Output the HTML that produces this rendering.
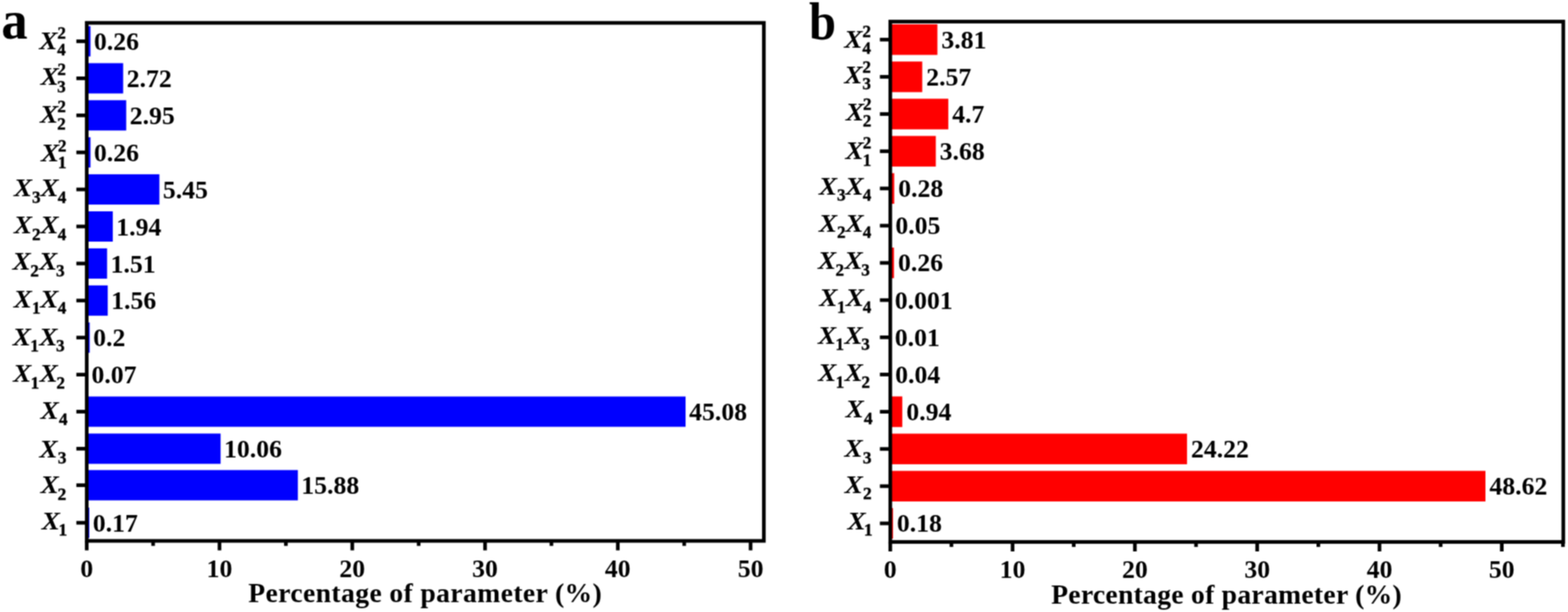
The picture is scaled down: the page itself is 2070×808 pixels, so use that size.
<!DOCTYPE html>
<html lang="en"><head><meta charset="utf-8"><title>Percentage of parameter</title>
<style>
html,body{margin:0;padding:0;background:#fff;}
body{width:2070px;height:808px;overflow:hidden;}
svg{display:block;}
text{font-family:"Liberation Serif","DejaVu Serif",serif;fill:#000;font-weight:bold;}
.i{font-style:italic;}
.d{font-style:normal;stroke:#000;stroke-width:0.45px;}
.ln{stroke:#000;stroke-width:4.8px;fill:none;}
</style></head><body>
<svg width="2070" height="808" viewBox="0 0 2070 808">
<defs><filter id="soft" x="-20" y="-20" width="2110" height="848" filterUnits="userSpaceOnUse" color-interpolation-filters="sRGB"><feConvolveMatrix order="3" kernelMatrix="1 2 1 2 4 2 1 2 1" divisor="16" edgeMode="duplicate" preserveAlpha="true"/></filter></defs>
<g filter="url(#soft)">
<rect x="-20" y="-20" width="2110" height="848" fill="#ffffff"/>
<g class="panel-a">
<rect x="114.5" y="34.5" width="4.96" height="40" fill="#0000ff"/>
<rect x="114.5" y="83.4" width="48.08" height="40" fill="#0000ff"/>
<rect x="114.5" y="132.3" width="52.11" height="40" fill="#0000ff"/>
<rect x="114.5" y="181.2" width="4.96" height="40" fill="#0000ff"/>
<rect x="114.5" y="230.1" width="95.93" height="40" fill="#0000ff"/>
<rect x="114.5" y="279" width="34.4" height="40" fill="#0000ff"/>
<rect x="114.5" y="327.9" width="26.87" height="40" fill="#0000ff"/>
<rect x="114.5" y="376.8" width="27.74" height="40" fill="#0000ff"/>
<rect x="114.5" y="425.7" width="3.91" height="40" fill="#0000ff"/>
<rect x="114.5" y="474.6" width="1.63" height="40" fill="#0000ff"/>
<rect x="114.5" y="523.5" width="790.56" height="40" fill="#0000ff"/>
<rect x="114.5" y="572.4" width="176.73" height="40" fill="#0000ff"/>
<rect x="114.5" y="620.6" width="278.74" height="40" fill="#0000ff"/>
<rect x="114.5" y="670.2" width="3.38" height="40" fill="#0000ff"/>
<rect class="ln" x="114.5" y="30.2" width="893.9" height="683.9"/>
<line class="ln" x1="100.8" y1="54.5" x2="114.5" y2="54.5"/>
<line class="ln" x1="100.8" y1="103.4" x2="114.5" y2="103.4"/>
<line class="ln" x1="100.8" y1="152.3" x2="114.5" y2="152.3"/>
<line class="ln" x1="100.8" y1="201.2" x2="114.5" y2="201.2"/>
<line class="ln" x1="100.8" y1="250.1" x2="114.5" y2="250.1"/>
<line class="ln" x1="100.8" y1="299" x2="114.5" y2="299"/>
<line class="ln" x1="100.8" y1="347.9" x2="114.5" y2="347.9"/>
<line class="ln" x1="100.8" y1="396.8" x2="114.5" y2="396.8"/>
<line class="ln" x1="100.8" y1="445.7" x2="114.5" y2="445.7"/>
<line class="ln" x1="100.8" y1="494.6" x2="114.5" y2="494.6"/>
<line class="ln" x1="100.8" y1="543.5" x2="114.5" y2="543.5"/>
<line class="ln" x1="100.8" y1="592.4" x2="114.5" y2="592.4"/>
<line class="ln" x1="100.8" y1="640.6" x2="114.5" y2="640.6"/>
<line class="ln" x1="100.8" y1="690.2" x2="114.5" y2="690.2"/>
<line class="ln" x1="114.5" y1="714.1" x2="114.5" y2="726.6"/>
<text x="114.5" y="761.7" font-size="34.0" text-anchor="middle">0</text>
<line class="ln" x1="289.78" y1="714.1" x2="289.78" y2="726.6"/>
<text x="289.78" y="761.7" font-size="34.0" text-anchor="middle">10</text>
<line class="ln" x1="465.06" y1="714.1" x2="465.06" y2="726.6"/>
<text x="465.06" y="761.7" font-size="34.0" text-anchor="middle">20</text>
<line class="ln" x1="640.34" y1="714.1" x2="640.34" y2="726.6"/>
<text x="640.34" y="761.7" font-size="34.0" text-anchor="middle">30</text>
<line class="ln" x1="815.62" y1="714.1" x2="815.62" y2="726.6"/>
<text x="815.62" y="761.7" font-size="34.0" text-anchor="middle">40</text>
<line class="ln" x1="990.9" y1="714.1" x2="990.9" y2="726.6"/>
<text x="990.9" y="761.7" font-size="34.0" text-anchor="middle">50</text>
<line class="ln" x1="202.14" y1="714.1" x2="202.14" y2="720.7"/>
<line class="ln" x1="377.42" y1="714.1" x2="377.42" y2="720.7"/>
<line class="ln" x1="552.7" y1="714.1" x2="552.7" y2="720.7"/>
<line class="ln" x1="727.98" y1="714.1" x2="727.98" y2="720.7"/>
<line class="ln" x1="903.26" y1="714.1" x2="903.26" y2="720.7"/>
<text x="124.06" y="66.1" font-size="34.0">0.26</text>
<text x="167.18" y="115" font-size="34.0">2.72</text>
<text x="171.21" y="163.9" font-size="34.0">2.95</text>
<text x="124.06" y="212.8" font-size="34.0">0.26</text>
<text x="215.03" y="261.7" font-size="34.0">5.45</text>
<text x="153.5" y="310.6" font-size="34.0">1.94</text>
<text x="145.97" y="359.5" font-size="34.0">1.51</text>
<text x="146.84" y="408.4" font-size="34.0">1.56</text>
<text x="123.01" y="457.3" font-size="34.0">0.2</text>
<text x="120.73" y="506.2" font-size="34.0">0.07</text>
<text x="909.66" y="555.1" font-size="34.0">45.08</text>
<text x="295.83" y="604" font-size="34.0">10.06</text>
<text x="397.84" y="652.2" font-size="34.0">15.88</text>
<text x="122.48" y="701.8" font-size="34.0">0.17</text>
<g class="ylab"><text class="i" transform="translate(51.7 65.1) scale(1.08 1)" font-size="33.5">X</text><text class="d" x="75.6" y="73.2" font-size="22.5">4</text><text class="d" x="75.8" y="51.3" font-size="22.5">2</text></g>
<g class="ylab"><text class="i" transform="translate(53.4 112) scale(1.08 1)" font-size="33.5">X</text><text class="d" x="75.6" y="121.5" font-size="22.5">3</text><text class="d" x="75.8" y="99" font-size="22.5">2</text></g>
<g class="ylab"><text class="i" transform="translate(52.8 162.1) scale(1.08 1)" font-size="33.5">X</text><text class="d" x="75.6" y="170.5" font-size="22.5">2</text><text class="d" x="75.8" y="147.9" font-size="22.5">2</text></g>
<g class="ylab"><text class="i" transform="translate(54.1 213.3) scale(1.08 1)" font-size="33.5">X</text><text class="d" x="76.4" y="221.9" font-size="22.5">1</text><text class="d" x="76.6" y="199.5" font-size="22.5">2</text></g>
<g class="ylab"><text class="i" transform="translate(18.3 258.9) scale(1.08 1)" font-size="33.5">X</text><text class="d" x="42.3" y="267.7" font-size="22.5">3</text><text class="i" transform="translate(53.3 258.9) scale(1.08 1)" font-size="33.5">X</text><text class="d" x="76.3" y="267.7" font-size="22.5">4</text></g>
<g class="ylab"><text class="i" transform="translate(18.3 307.8) scale(1.08 1)" font-size="33.5">X</text><text class="d" x="42.3" y="316.6" font-size="22.5">2</text><text class="i" transform="translate(53.3 307.8) scale(1.08 1)" font-size="33.5">X</text><text class="d" x="76.3" y="316.6" font-size="22.5">4</text></g>
<g class="ylab"><text class="i" transform="translate(16.6 355.8) scale(1.08 1)" font-size="33.5">X</text><text class="d" x="40.1" y="365.1" font-size="22.5">2</text><text class="i" transform="translate(51.6 355.8) scale(1.08 1)" font-size="33.5">X</text><text class="d" x="74.1" y="365.1" font-size="22.5">3</text></g>
<g class="ylab"><text class="i" transform="translate(18.1 405.6) scale(1.08 1)" font-size="33.5">X</text><text class="d" x="42.3" y="414.4" font-size="22.5">1</text><text class="i" transform="translate(53.1 405.6) scale(1.08 1)" font-size="33.5">X</text><text class="d" x="76.3" y="414.4" font-size="22.5">4</text></g>
<g class="ylab"><text class="i" transform="translate(16.8 455.5) scale(1.08 1)" font-size="33.5">X</text><text class="d" x="40" y="464.3" font-size="22.5">1</text><text class="i" transform="translate(51.8 455.5) scale(1.08 1)" font-size="33.5">X</text><text class="d" x="74" y="464.3" font-size="22.5">3</text></g>
<g class="ylab"><text class="i" transform="translate(17.3 504.4) scale(1.08 1)" font-size="33.5">X</text><text class="d" x="40.5" y="513.2" font-size="22.5">1</text><text class="i" transform="translate(52.3 504.4) scale(1.08 1)" font-size="33.5">X</text><text class="d" x="74.5" y="513.2" font-size="22.5">2</text></g>
<g class="ylab"><text class="i" transform="translate(53.5 552.7) scale(1.08 1)" font-size="33.5">X</text><text class="d" x="77.8" y="561.3" font-size="23">4</text></g>
<g class="ylab"><text class="i" transform="translate(52 603.6) scale(1.08 1)" font-size="33.5">X</text><text class="d" x="76.3" y="612.2" font-size="23">3</text></g>
<g class="ylab"><text class="i" transform="translate(53.5 650.8) scale(1.08 1)" font-size="33.5">X</text><text class="d" x="76" y="659.8" font-size="23">2</text></g>
<g class="ylab"><text class="i" transform="translate(55 698.9) scale(1.08 1)" font-size="33.5">X</text><text class="d" x="77.3" y="706.8" font-size="23">1</text></g>
<text transform="translate(1.8 50.5) scale(0.96 1)" font-size="72.5">a</text>
<text x="561.4" y="794.8" font-size="36.5" text-anchor="middle" letter-spacing="0.5">Percentage of parameter (%)</text>
</g>
<g class="panel-b">
<rect x="1175.3" y="32.1" width="62.22" height="40.4" fill="#ff0000"/>
<rect x="1175.3" y="81.23" width="42.2" height="40.4" fill="#ff0000"/>
<rect x="1175.3" y="130.36" width="76.59" height="40.4" fill="#ff0000"/>
<rect x="1175.3" y="179.49" width="60.12" height="40.4" fill="#ff0000"/>
<rect x="1175.3" y="228.62" width="5.22" height="40.4" fill="#ff0000"/>
<rect x="1175.3" y="277.75" width="1.51" height="40.4" fill="#ff0000"/>
<rect x="1175.3" y="326.88" width="4.9" height="40.4" fill="#ff0000"/>
<rect x="1175.3" y="376.01" width="0.72" height="40.4" fill="#ff0000"/>
<rect x="1175.3" y="425.14" width="0.86" height="40.4" fill="#ff0000"/>
<rect x="1175.3" y="474.27" width="1.35" height="40.4" fill="#ff0000"/>
<rect x="1175.3" y="523.4" width="15.88" height="40.4" fill="#ff0000"/>
<rect x="1175.3" y="572.53" width="391.76" height="40.4" fill="#ff0000"/>
<rect x="1175.3" y="621.66" width="785.72" height="40.4" fill="#ff0000"/>
<rect x="1175.3" y="670.79" width="3.61" height="40.4" fill="#ff0000"/>
<rect class="ln" x="1175.3" y="28.5" width="888.5" height="687"/>
<line class="ln" x1="1161.6" y1="52.3" x2="1175.3" y2="52.3"/>
<line class="ln" x1="1161.6" y1="101.43" x2="1175.3" y2="101.43"/>
<line class="ln" x1="1161.6" y1="150.56" x2="1175.3" y2="150.56"/>
<line class="ln" x1="1161.6" y1="199.69" x2="1175.3" y2="199.69"/>
<line class="ln" x1="1161.6" y1="248.82" x2="1175.3" y2="248.82"/>
<line class="ln" x1="1161.6" y1="297.95" x2="1175.3" y2="297.95"/>
<line class="ln" x1="1161.6" y1="347.08" x2="1175.3" y2="347.08"/>
<line class="ln" x1="1161.6" y1="396.21" x2="1175.3" y2="396.21"/>
<line class="ln" x1="1161.6" y1="445.34" x2="1175.3" y2="445.34"/>
<line class="ln" x1="1161.6" y1="494.47" x2="1175.3" y2="494.47"/>
<line class="ln" x1="1161.6" y1="543.6" x2="1175.3" y2="543.6"/>
<line class="ln" x1="1161.6" y1="592.73" x2="1175.3" y2="592.73"/>
<line class="ln" x1="1161.6" y1="641.86" x2="1175.3" y2="641.86"/>
<line class="ln" x1="1161.6" y1="690.99" x2="1175.3" y2="690.99"/>
<line class="ln" x1="1175.3" y1="715.5" x2="1175.3" y2="728"/>
<text x="1175.3" y="763.3" font-size="34.0" text-anchor="middle">0</text>
<line class="ln" x1="1336.76" y1="715.5" x2="1336.76" y2="728"/>
<text x="1336.76" y="763.3" font-size="34.0" text-anchor="middle">10</text>
<line class="ln" x1="1498.22" y1="715.5" x2="1498.22" y2="728"/>
<text x="1498.22" y="763.3" font-size="34.0" text-anchor="middle">20</text>
<line class="ln" x1="1659.68" y1="715.5" x2="1659.68" y2="728"/>
<text x="1659.68" y="763.3" font-size="34.0" text-anchor="middle">30</text>
<line class="ln" x1="1821.14" y1="715.5" x2="1821.14" y2="728"/>
<text x="1821.14" y="763.3" font-size="34.0" text-anchor="middle">40</text>
<line class="ln" x1="1982.6" y1="715.5" x2="1982.6" y2="728"/>
<text x="1982.6" y="763.3" font-size="34.0" text-anchor="middle">50</text>
<line class="ln" x1="1256.03" y1="715.5" x2="1256.03" y2="722.1"/>
<line class="ln" x1="1417.49" y1="715.5" x2="1417.49" y2="722.1"/>
<line class="ln" x1="1578.95" y1="715.5" x2="1578.95" y2="722.1"/>
<line class="ln" x1="1740.41" y1="715.5" x2="1740.41" y2="722.1"/>
<line class="ln" x1="1901.87" y1="715.5" x2="1901.87" y2="722.1"/>
<line class="ln" x1="2063.33" y1="715.5" x2="2063.33" y2="722.1"/>
<text x="1242.72" y="63.6" font-size="34.0">3.81</text>
<text x="1222.7" y="112.73" font-size="34.0">2.57</text>
<text x="1257.09" y="161.86" font-size="34.0">4.7</text>
<text x="1240.62" y="210.99" font-size="34.0">3.68</text>
<text x="1185.72" y="260.12" font-size="34.0">0.28</text>
<text x="1182.01" y="309.25" font-size="34.0">0.05</text>
<text x="1185.4" y="358.38" font-size="34.0">0.26</text>
<text x="1181.22" y="407.51" font-size="34.0">0.001</text>
<text x="1181.36" y="456.64" font-size="34.0">0.01</text>
<text x="1181.85" y="505.77" font-size="34.0">0.04</text>
<text x="1196.38" y="554.9" font-size="34.0">0.94</text>
<text x="1572.26" y="604.03" font-size="34.0">24.22</text>
<text x="1966.22" y="653.16" font-size="34.0">48.62</text>
<text x="1184.11" y="702.29" font-size="34.0">0.18</text>
<g class="ylab"><text class="i" transform="translate(1114.6 62.9) scale(1.08 1)" font-size="33.5">X</text><text class="d" x="1138.4" y="71" font-size="22.5">4</text><text class="d" x="1138.6" y="49.1" font-size="22.5">2</text></g>
<g class="ylab"><text class="i" transform="translate(1114.6 109.53) scale(1.08 1)" font-size="33.5">X</text><text class="d" x="1138.4" y="117.63" font-size="22.5">3</text><text class="d" x="1138.6" y="95.73" font-size="22.5">2</text></g>
<g class="ylab"><text class="i" transform="translate(1116.6 158.56) scale(1.08 1)" font-size="33.5">X</text><text class="d" x="1139" y="167.06" font-size="22.5">2</text><text class="d" x="1139.2" y="144.76" font-size="22.5">2</text></g>
<g class="ylab"><text class="i" transform="translate(1116.1 210.29) scale(1.08 1)" font-size="33.5">X</text><text class="d" x="1138.9" y="219.39" font-size="22.5">1</text><text class="d" x="1139.1" y="196.49" font-size="22.5">2</text></g>
<g class="ylab"><text class="i" transform="translate(1081 256.52) scale(1.08 1)" font-size="33.5">X</text><text class="d" x="1105.1" y="265.32" font-size="22.5">3</text><text class="i" transform="translate(1116 256.52) scale(1.08 1)" font-size="33.5">X</text><text class="d" x="1139.1" y="265.32" font-size="22.5">4</text></g>
<g class="ylab"><text class="i" transform="translate(1081 305.65) scale(1.08 1)" font-size="33.5">X</text><text class="d" x="1105.1" y="314.45" font-size="22.5">2</text><text class="i" transform="translate(1116 305.65) scale(1.08 1)" font-size="33.5">X</text><text class="d" x="1139.1" y="314.45" font-size="22.5">4</text></g>
<g class="ylab"><text class="i" transform="translate(1079.7 354.78) scale(1.08 1)" font-size="33.5">X</text><text class="d" x="1102.9" y="363.58" font-size="22.5">2</text><text class="i" transform="translate(1114.7 354.78) scale(1.08 1)" font-size="33.5">X</text><text class="d" x="1136.9" y="363.58" font-size="22.5">3</text></g>
<g class="ylab"><text class="i" transform="translate(1081.4 403.91) scale(1.08 1)" font-size="33.5">X</text><text class="d" x="1105.1" y="412.71" font-size="22.5">1</text><text class="i" transform="translate(1116.4 403.91) scale(1.08 1)" font-size="33.5">X</text><text class="d" x="1139.1" y="412.71" font-size="22.5">4</text></g>
<g class="ylab"><text class="i" transform="translate(1079.8 453.64) scale(1.08 1)" font-size="33.5">X</text><text class="d" x="1103" y="462.44" font-size="22.5">1</text><text class="i" transform="translate(1114.8 453.64) scale(1.08 1)" font-size="33.5">X</text><text class="d" x="1137" y="462.44" font-size="22.5">3</text></g>
<g class="ylab"><text class="i" transform="translate(1080 503.47) scale(1.08 1)" font-size="33.5">X</text><text class="d" x="1103.2" y="512.27" font-size="22.5">1</text><text class="i" transform="translate(1115 503.47) scale(1.08 1)" font-size="33.5">X</text><text class="d" x="1137.2" y="512.27" font-size="22.5">2</text></g>
<g class="ylab"><text class="i" transform="translate(1116.3 551.4) scale(1.08 1)" font-size="33.5">X</text><text class="d" x="1140.6" y="560" font-size="23">4</text></g>
<g class="ylab"><text class="i" transform="translate(1114.8 602.93) scale(1.08 1)" font-size="33.5">X</text><text class="d" x="1139.1" y="611.53" font-size="23">3</text></g>
<g class="ylab"><text class="i" transform="translate(1114.9 651.26) scale(1.08 1)" font-size="33.5">X</text><text class="d" x="1139.2" y="659.36" font-size="23">2</text></g>
<g class="ylab"><text class="i" transform="translate(1118.8 698.89) scale(1.08 1)" font-size="33.5">X</text><text class="d" x="1140.6" y="707.49" font-size="23">1</text></g>
<text transform="translate(1067.9 51.6) scale(0.93 1)" font-size="69.0">b</text>
<text x="1619.3" y="796.5" font-size="36.5" text-anchor="middle" letter-spacing="0.35">Percentage of parameter (%)</text>
</g>
</g>
</svg>
</body></html>
